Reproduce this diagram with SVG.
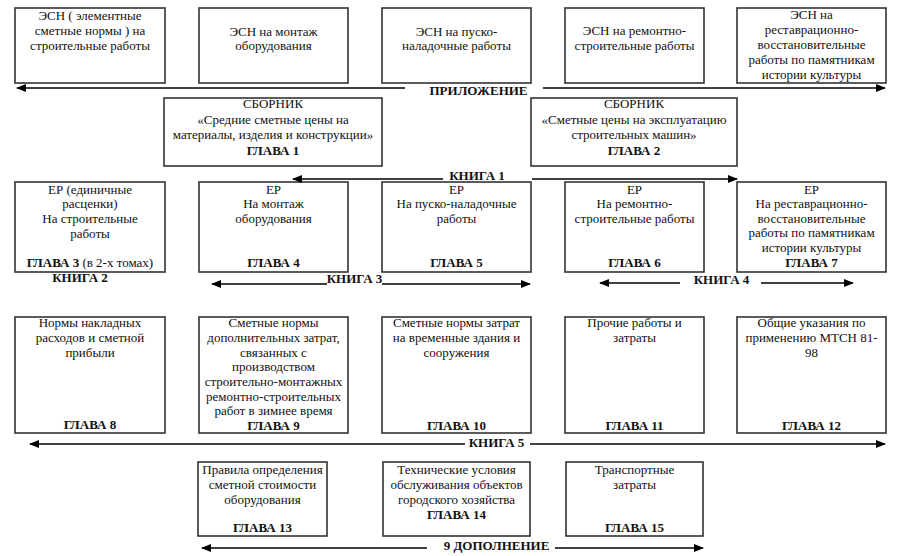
<svg xmlns="http://www.w3.org/2000/svg" width="898" height="556" viewBox="0 0 898 556" font-family="'Liberation Serif', 'Times New Roman', 'DejaVu Serif', serif">
<defs>
<marker id="ah" markerUnits="userSpaceOnUse" markerWidth="10" markerHeight="8" refX="9" refY="4" orient="auto">
<path d="M0,0 L10,4 L0,8 Z" fill="#000"/>
</marker>
<style>
rect.b{fill:#fff;stroke:#333;stroke-width:1.6}
text{font-family:'Liberation Serif','Times New Roman','DejaVu Serif',serif;font-size:13px;fill:#111;text-anchor:middle}
.h{font-weight:bold;font-size:13px}
line.a{stroke:#000;stroke-width:1.5;marker-end:url(#ah)}
</style>
</defs>
<rect width="898" height="556" fill="#fff"/>

<g id="esn1"><rect class="b" x="15" y="8" width="150" height="75"/>
<text x="90" y="20">ЭСН ( элементные</text><text x="90" y="35">сметные нормы ) на</text><text x="90" y="50">строительные работы</text></g>
<g id="esn2"><rect class="b" x="199" y="8" width="149" height="75"/>
<text x="273.5" y="36">ЭСН на монтаж</text><text x="273.5" y="50">оборудования</text></g>
<g id="esn3"><rect class="b" x="382" y="8" width="149" height="75"/>
<text x="456.5" y="36">ЭСН на пуско-</text><text x="456.5" y="50">наладочные работы</text></g>
<g id="esn4"><rect class="b" x="565" y="8" width="139" height="75"/>
<text x="634.5" y="35">ЭСН на ремонтно-</text><text x="634.5" y="50">строительные работы</text></g>
<g id="esn5"><rect class="b" x="737" y="8" width="149" height="75"/>
<text x="811.5" y="19">ЭСН на</text><text x="811.5" y="34">реставрационно-</text><text x="811.5" y="49">восстановительные</text><text x="811.5" y="64">работы по памятникам</text><text x="811.5" y="79">истории культуры</text></g>

<g id="sb1"><rect class="b" x="164" y="98" width="218" height="68"/>
<text x="273" y="108">СБОРНИК</text><text x="273" y="124">«Средние сметные цены на</text><text x="273" y="139">материалы, изделия и конструкции»</text><text class="h" x="273" y="155">ГЛАВА 1</text></g>
<g id="sb2"><rect class="b" x="531" y="98" width="206" height="68"/>
<text x="634" y="108">СБОРНИК</text><text x="634" y="124">«Сметные цены на эксплуатацию</text><text x="634" y="139">строительных машин»</text><text class="h" x="634" y="155">ГЛАВА 2</text></g>

<g id="er3"><rect class="b" x="15" y="182" width="150" height="90"/>
<text x="90" y="194">ЕР (единичные</text><text x="90" y="208">расценки)</text><text x="90" y="223">На строительные</text><text x="90" y="238">работы</text><text x="90" y="267"><tspan font-weight="bold">ГЛАВА 3</tspan> (в 2-х томах)</text></g>
<g id="er4"><rect class="b" x="199" y="182" width="149" height="90"/>
<text x="273.5" y="194">ЕР</text><text x="273.5" y="208">На монтаж</text><text x="273.5" y="223">оборудования</text><text class="h" x="273.5" y="267">ГЛАВА 4</text></g>
<g id="er5"><rect class="b" x="382" y="182" width="149" height="90"/>
<text x="456.5" y="194">ЕР</text><text x="456.5" y="208">На пуско-наладочные</text><text x="456.5" y="223">работы</text><text class="h" x="456.5" y="267">ГЛАВА 5</text></g>
<g id="er6"><rect class="b" x="565" y="182" width="139" height="90"/>
<text x="634.5" y="194">ЕР</text><text x="634.5" y="208">На ремонтно-</text><text x="634.5" y="223">строительные работы</text><text class="h" x="634.5" y="267">ГЛАВА 6</text></g>
<g id="er7"><rect class="b" x="737" y="182" width="149" height="90"/>
<text x="811.5" y="194">ЕР</text><text x="811.5" y="208">На реставрационно-</text><text x="811.5" y="223">восстановительные</text><text x="811.5" y="237">работы по памятникам</text><text x="811.5" y="252">истории культуры</text><text class="h" x="811.5" y="267">ГЛАВА 7</text></g>

<g id="g8"><rect class="b" x="15" y="317" width="150" height="116"/>
<text x="90" y="327">Нормы накладных</text><text x="90" y="342">расходов и сметной</text><text x="90" y="357">прибыли</text><text class="h" x="90" y="429">ГЛАВА 8</text></g>
<g id="g9"><rect class="b" x="199" y="317" width="149" height="116"/>
<text x="273.5" y="327">Сметные нормы</text><text x="273.5" y="342">дополнительных затрат,</text><text x="273.5" y="357">связанных с</text><text x="273.5" y="371">производством</text><text x="273.5" y="386">строительно-монтажных</text><text x="273.5" y="401">ремонтно-строительных</text><text x="273.5" y="415">работ в зимнее время</text><text class="h" x="273.5" y="430">ГЛАВА 9</text></g>
<g id="g10"><rect class="b" x="382" y="317" width="149" height="116"/>
<text x="456.5" y="327">Сметные нормы затрат</text><text x="456.5" y="342">на временные здания и</text><text x="456.5" y="357">сооружения</text><text class="h" x="456.5" y="430">ГЛАВА 10</text></g>
<g id="g11"><rect class="b" x="565" y="317" width="139" height="116"/>
<text x="634.5" y="327">Прочие работы и</text><text x="634.5" y="342">затраты</text><text class="h" x="634.5" y="430">ГЛАВА 11</text></g>
<g id="g12"><rect class="b" x="737" y="317" width="149" height="116"/>
<text x="811.5" y="327">Общие указания по</text><text x="811.5" y="342">применению МТСН 81-</text><text x="811.5" y="357">98</text><text class="h" x="811.5" y="430">ГЛАВА 12</text></g>

<g id="g13"><rect class="b" x="198" y="462" width="129" height="74"/>
<text x="262.5" y="474">Правила определения</text><text x="262.5" y="489">сметной стоимости</text><text x="262.5" y="504">оборудования</text><text class="h" x="262.5" y="532">ГЛАВА 13</text></g>
<g id="g14"><rect class="b" x="383" y="462" width="147" height="74"/>
<text x="456.5" y="474">Технические условия</text><text x="456.5" y="489">обслуживания объектов</text><text x="456.5" y="504">городского хозяйства</text><text class="h" x="456.5" y="519">ГЛАВА 14</text></g>
<g id="g15"><rect class="b" x="566" y="462" width="137" height="74"/>
<text x="634.5" y="474">Транспортные</text><text x="634.5" y="489">затраты</text><text class="h" x="634.5" y="532">ГЛАВА 15</text></g>

<g id="connectors">
<line class="a" x1="405" y1="88" x2="17" y2="88"/>
<line class="a" x1="543" y1="88" x2="885" y2="88"/>
<line class="a" x1="443" y1="179" x2="293" y2="179"/>
<line class="a" x1="532" y1="179" x2="737" y2="179"/>
<line class="a" x1="327" y1="284" x2="212" y2="284"/>
<line class="a" x1="382" y1="284" x2="530" y2="284"/>
<line class="a" x1="680" y1="283" x2="600" y2="283"/>
<line class="a" x1="761" y1="283" x2="853" y2="283"/>
<line class="a" x1="465" y1="444" x2="30" y2="444"/>
<line class="a" x1="530" y1="444" x2="885" y2="444"/>
<line class="a" x1="427" y1="548" x2="202" y2="548"/>
<line class="a" x1="555" y1="548" x2="703" y2="548"/>
</g>

<g id="labels">
<text class="h" x="478.5" y="95">ПРИЛОЖЕНИЕ</text>
<text class="h" x="477" y="180">КНИГА 1</text>
<text class="h" x="80" y="282">КНИГА 2</text>
<text class="h" x="354.5" y="283">КНИГА 3</text>
<text class="h" x="721.5" y="284">КНИГА 4</text>
<text class="h" x="496.5" y="447">КНИГА 5</text>
<text class="h" x="496.5" y="550">9 ДОПОЛНЕНИЕ</text>
</g>
</svg>
